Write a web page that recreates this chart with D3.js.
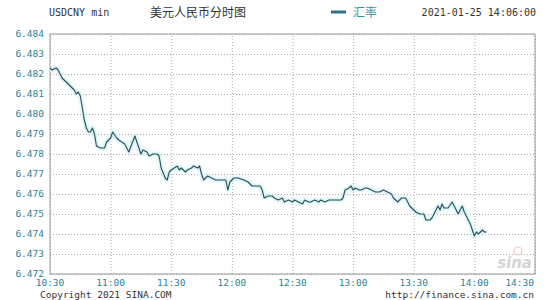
<!DOCTYPE html>
<html>
<head>
<meta charset="utf-8">
<script src="https://cdn.jsdelivr.net/npm/d3@7"></script>
<style>
  body { margin: 0; background: #fff; }
  svg { display: block; }
  .mono { font-family: "DejaVu Sans Mono", "Liberation Mono", monospace; }
</style>
</head>
<body>
<svg id="chart" width="545" height="300"></svg>
<script>
// minute-by-minute USD/CNY readings
const times = [
  "10:30","10:31","10:33","10:34","10:35","10:36","10:38","10:39","10:41","10:42",
  "10:43","10:44","10:45","10:46","10:47","10:48","10:49","10:50","10:51","10:52",
  "10:53","10:55","10:57","10:58","11:00","11:01","11:03","11:04","11:07","11:09",
  "11:12","11:13","11:15","11:16","11:18","11:19","11:21","11:23","11:24","11:25",
  "11:27","11:28","11:29","11:30","11:33","11:34","11:35","11:37","11:38","11:40",
  "11:41","11:43","11:44","11:45","11:46","11:48","11:50","11:52","11:55","11:57",
  "11:58","11:59","12:01","12:03","12:06","12:08","12:10","12:14","12:15","12:16",
  "12:18","12:20","12:21","12:23","12:25","12:26","12:28","12:30","12:31","12:33",
  "12:35","12:36","12:38","12:39","12:41","12:43","12:44","12:46","12:48","12:49",
  "12:51","12:54","12:55","12:56","12:58","12:59","13:00","13:01","13:03","13:04",
  "13:06","13:07","13:09","13:11","13:13","13:15","13:17","13:19","13:20","13:22",
  "13:23","13:24","13:26","13:27","13:28","13:30","13:31","13:33","13:35","13:36",
  "13:38","13:39","13:40","13:41","13:42","13:43","13:44","13:45","13:47","13:49",
  "13:50","13:52","13:53","13:54","13:55","13:57","13:58","13:59","14:00","14:01",
  "14:02","14:03","14:04","14:05","14:06"
];
const rates = [
  6.4823,6.4822,6.4823,6.4822,6.4820,6.4818,6.4816,6.4815,6.4813,6.4812,
  6.4810,6.4811,6.4809,6.4803,6.4797,6.4793,6.4791,6.4791,6.4793,6.4790,
  6.4784,6.4783,6.4783,6.4786,6.4788,6.4791,6.4788,6.4787,6.4785,6.4781,
  6.4789,6.4786,6.4780,6.4782,6.4781,6.4779,6.4780,6.4780,6.4779,6.4773,
  6.4768,6.4767,6.4771,6.4772,6.4774,6.4772,6.4773,6.4771,6.4772,6.4773,
  6.4774,6.4773,6.4774,6.4770,6.4767,6.4769,6.4768,6.4767,6.4767,6.4767,
  6.4762,6.4766,6.4768,6.4768,6.4767,6.4766,6.4764,6.4764,6.4762,6.4758,
  6.4759,6.4759,6.4758,6.4757,6.4758,6.4756,6.4757,6.4756,6.4757,6.4756,
  6.4755,6.4757,6.4756,6.4756,6.4757,6.4756,6.4757,6.4756,6.4757,6.4757,
  6.4757,6.4757,6.4758,6.4762,6.4763,6.4764,6.4762,6.4763,6.4762,6.4762,
  6.4763,6.4763,6.4762,6.4761,6.4761,6.4762,6.4761,6.4760,6.4758,6.4756,
  6.4757,6.4758,6.4758,6.4756,6.4754,6.4752,6.4751,6.4750,6.4750,6.4747,
  6.4747,6.4748,6.4750,6.4752,6.4754,6.4752,6.4755,6.4753,6.4753,6.4756,
  6.4754,6.4750,6.4752,6.4754,6.4751,6.4747,6.4745,6.4742,6.4739,6.4741,
  6.4740,6.4741,6.4742,6.4741,6.4741
];
const xTicks = ["10:30","11:00","11:30","12:00","12:30","13:00","13:30","14:00","14:30"];
const yTicks = [6.472,6.473,6.474,6.475,6.476,6.477,6.478,6.479,6.480,6.481,6.482,6.483,6.484];

const margin = {top: 34, right: 10, bottom: 26, left: 50};
const width = 545, height = 300;
const parse = d3.timeParse("%H:%M");

const svg = d3.select("#chart");
const defs = svg.append("defs");
defs.append("filter").attr("id", "glow")
  .attr("x", "-5%").attr("y", "-20%").attr("width", "110%").attr("height", "140%")
  .append("feGaussianBlur").attr("stdDeviation", 1);

const x = d3.scaleTime()
  .domain([parse(xTicks[0]), parse(xTicks[xTicks.length - 1])])
  .range([margin.left, width - margin.right]);
const y = d3.scaleLinear()
  .domain([yTicks[0], yTicks[yTicks.length - 1]])
  .range([height - margin.bottom, margin.top]);

const data = times.map((t, i) => ({t: parse(t), v: rates[i]}));

// grid
svg.append("g")
  .attr("transform", `translate(0,${height - margin.bottom})`)
  .call(d3.axisBottom(x).tickValues(xTicks.map(parse)).tickSize(-(height - margin.top - margin.bottom)).tickFormat(""))
  .call(g => g.select(".domain").remove())
  .call(g => g.selectAll("line").attr("stroke", "#aaa").attr("stroke-dasharray", "1,2"));
svg.append("g")
  .attr("transform", `translate(${margin.left},0)`)
  .call(d3.axisLeft(y).tickValues(yTicks).tickSize(-(width - margin.left - margin.right)).tickFormat(""))
  .call(g => g.select(".domain").remove())
  .call(g => g.selectAll("line").attr("stroke", "#aaa").attr("stroke-dasharray", "1,2"));

// frame
svg.append("rect")
  .attr("x", margin.left).attr("y", margin.top)
  .attr("width", width - margin.left - margin.right)
  .attr("height", height - margin.top - margin.bottom)
  .attr("fill", "none").attr("stroke", "#999");

// tick labels
const tickColor = "#2c8296";
svg.append("g").selectAll("text")
  .data(yTicks).enter().append("text")
  .attr("class", "mono")
  .attr("x", margin.left - 6).attr("y", d => y(d))
  .attr("dy", "0.35em").attr("text-anchor", "end")
  .attr("font-size", 9.5).attr("fill", tickColor)
  .text(d3.format(".3f"));
svg.append("g").selectAll("text")
  .data(xTicks).enter().append("text")
  .attr("class", "mono")
  .attr("x", (d, i) => i === xTicks.length - 1 ? x(parse(d)) - 1 : x(parse(d)))
  .attr("y", height - margin.bottom + 12)
  .attr("text-anchor", (d, i) => i === xTicks.length - 1 ? "end" : "middle")
  .attr("font-size", 9.5).attr("fill", tickColor)
  .text(d => d);

// sina watermark
svg.append("circle").attr("cx", 518).attr("cy", 251).attr("r", 4)
  .attr("fill", "none").attr("stroke", "#f0c8c8").attr("stroke-width", 1.2);
svg.append("text")
  .attr("x", 532).attr("y", 268).attr("text-anchor", "end")
  .attr("font-family", "Verdana, 'DejaVu Sans', sans-serif")
  .attr("font-style", "italic").attr("font-weight", "bold")
  .attr("font-size", 15).attr("fill", "#d4d4d4")
  .text("sina");

// line
const line = d3.line().x(d => x(d.t)).y(d => y(d.v));
svg.append("path").datum(data)
  .attr("d", line).attr("fill", "none")
  .attr("stroke", "#d2f2f5").attr("stroke-width", 4)
  .attr("stroke-linejoin", "round")
  .attr("filter", "url(#glow)");
svg.append("path").datum(data)
  .attr("d", line).attr("fill", "none")
  .attr("stroke", "#2c4f5a").attr("stroke-width", 1.1)
  .attr("stroke-linejoin", "round");

// header
svg.append("text").attr("class", "mono")
  .attr("x", 49).attr("y", 16).attr("font-size", 10).attr("fill", "#333")
  .text("USDCNY min");
svg.append("text")
  .attr("x", 150).attr("y", 17)
  .attr("font-family", "'Noto Sans CJK SC', sans-serif")
  .attr("font-size", 12).attr("fill", "#333")
  .text("美元人民币分时图");
svg.append("line")
  .attr("x1", 331).attr("x2", 346).attr("y1", 12).attr("y2", 12)
  .attr("stroke", "#2f6f8a").attr("stroke-width", 3);
svg.append("text")
  .attr("x", 353).attr("y", 17)
  .attr("font-family", "'Noto Sans CJK SC', sans-serif")
  .attr("font-size", 12).attr("fill", "#3a90a4")
  .text("汇率");
svg.append("text").attr("class", "mono")
  .attr("x", 536).attr("y", 16).attr("text-anchor", "end")
  .attr("font-size", 10).attr("fill", "#333")
  .text("2021-01-25 14:06:00");

// footer
svg.append("text").attr("class", "mono")
  .attr("x", 40).attr("y", 298).attr("font-size", 9.5).attr("fill", "#333")
  .text("Copyright 2021 SINA.COM");
svg.append("text").attr("class", "mono")
  .attr("x", 534).attr("y", 298).attr("text-anchor", "end")
  .attr("font-size", 9.5).attr("fill", "#333")
  .text("http://finance.sina.com.cn");
</script>
</body>
</html>
